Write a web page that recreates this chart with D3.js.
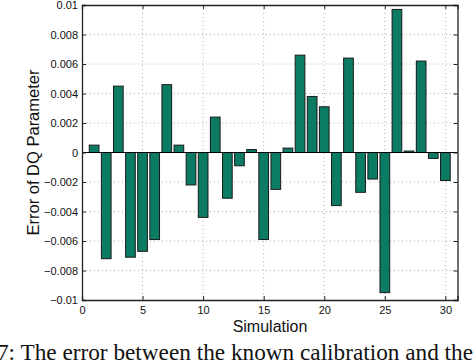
<!DOCTYPE html>
<html><head><meta charset="utf-8">
<script src="https://cdn.jsdelivr.net/npm/d3@7"></script>
<style>body{margin:0;background:#fff}svg{display:block}</style>
</head><body>
<svg id="c" width="474" height="362"></svg>
<script>
const simulations = d3.range(1, 31);
const errors = [0.0005,-0.0072,0.0045,-0.0071,-0.0067,-0.0059,0.0046,0.0005,-0.0022,-0.0044,
  0.0024,-0.0031,-0.0009,0.0002,-0.0059,-0.0025,0.0003,0.0066,0.0038,0.0031,
  -0.0036,0.0064,-0.0027,-0.0018,-0.0095,0.0097,0.0001,0.0062,-0.0004,-0.0019];
const xTicks = [0,5,10,15,20,25,30];
const yTicks = [-0.01,-0.008,-0.006,-0.004,-0.002,0,0.002,0.004,0.006,0.008,0.01];
const yTickLabels = ["\u22120.01","\u22120.008","\u22120.006","\u22120.004","\u22120.002","0","0.002","0.004","0.006","0.008","0.01"];
const xLabel = "Simulation", yLabel = "Error of DQ Parameter";
const caption = "7: The error between the known calibration and the";

const svg = d3.select("#c");
const L = 82, R = 457.5, T = 5, B = 300;
const x = d3.scaleLinear().domain([0,31]).range([L,R]);
const y = d3.scaleLinear().domain([-0.01,0.01]).range([B,T]);

// grid
const g = svg.append("g");
g.selectAll(".gx").data(xTicks.filter(d=>d>0)).enter().append("line")
  .attr("x1",d=>x(d)).attr("x2",d=>x(d)).attr("y1",T).attr("y2",B)
  .attr("stroke","#b0b0b0").attr("stroke-width",1).attr("stroke-dasharray","1,3");
g.selectAll(".gy").data(yTicks.slice(1,-1)).enter().append("line")
  .attr("x1",L).attr("x2",R).attr("y1",d=>y(d)).attr("y2",d=>y(d))
  .attr("stroke","#b0b0b0").attr("stroke-width",1).attr("stroke-dasharray","1,3");

// bars
const bw = 0.8;
svg.append("g").selectAll("rect").data(simulations).enter().append("rect")
  .attr("x",(d)=>x(d-bw/2))
  .attr("width",x(bw)-x(0))
  .attr("y",(d,i)=>y(Math.max(0,errors[i])))
  .attr("height",(d,i)=>Math.abs(y(errors[i])-y(0)))
  .attr("fill","#0c7b63").attr("stroke","#1a1a1a").attr("stroke-width",1);

// zero line
svg.append("line").attr("x1",L).attr("x2",R).attr("y1",y(0)).attr("y2",y(0))
  .attr("stroke","#000").attr("stroke-width",1.2);

// axes
const font = "'Liberation Sans', Arial, sans-serif";
const xa = svg.append("g").attr("transform",`translate(0,${B})`)
  .call(d3.axisBottom(x).tickValues(xTicks).tickSize(-4).tickPadding(6).tickFormat(d3.format("d")));
const xaT = svg.append("g").attr("transform",`translate(0,${T})`)
  .call(d3.axisTop(x).tickValues(xTicks).tickSize(-4).tickFormat(""));
const ya = svg.append("g").attr("transform",`translate(${L},0)`)
  .call(d3.axisLeft(y).tickValues(yTicks).tickSize(-4).tickPadding(4).tickFormat((d,i)=>yTickLabels[i]));
const yaR = svg.append("g").attr("transform",`translate(${R},0)`)
  .call(d3.axisRight(y).tickValues(yTicks).tickSize(-4).tickFormat(""));
[xa,xaT,ya,yaR].forEach(a=>{
  a.select(".domain").attr("stroke","#222").attr("stroke-width",1.3);
  a.selectAll(".tick line").attr("stroke","#222");
  a.selectAll("text").attr("font-family",font).attr("font-size",11).attr("fill","#111");
});

svg.append("text").attr("x",270).attr("y",331.5).attr("text-anchor","middle")
  .attr("font-family",font).attr("font-size",16).attr("fill","#111").text(xLabel);
svg.append("text").attr("transform",`translate(39,${y(0)}) rotate(-90)`).attr("text-anchor","middle")
  .attr("font-family",font).attr("font-size",16.5).attr("fill","#111").text(yLabel);

svg.append("text").attr("x",-3).attr("y",360)
  .attr("font-family","'Liberation Serif', 'Times New Roman', Times, serif").attr("font-size",23).attr("fill","#111")
  .attr("textLength",476).attr("lengthAdjust","spacingAndGlyphs").text(caption);
</script>
</body></html>
